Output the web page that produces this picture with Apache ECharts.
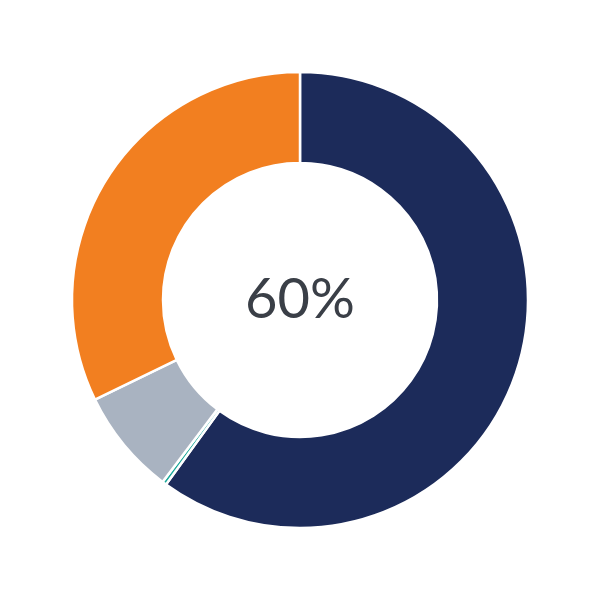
<!DOCTYPE html>
<html><head><meta charset="utf-8">
<script src="https://cdn.jsdelivr.net/npm/echarts@6/dist/echarts.min.js"></script>
<style>html,body{margin:0;padding:0;background:#fff}#c{width:600px;height:600px}</style>
</head><body><div id="c"></div>
<script>
const categories = ['Navy', 'Teal', 'Gray', 'Orange'];
const values = [60, 0.3, 7.5, 32.2];
const colors = ['#1c2b5a', '#1aa89a', '#a9b3c1', '#f27f20'];
const centerLabel = '60%';

const chart = echarts.init(document.getElementById('c'));
chart.setOption({
  animation: false,
  title: {
    text: centerLabel, left: 'center', top: 'middle',
    textStyle: { fontFamily: 'Lato', fontWeight: 'normal', fontSize: 56, color: '#3a3f47' }
  },
  series: [{
    type: 'pie',
    center: [300, 300],
    radius: [137, 228],
    startAngle: 90,
    clockwise: true,
    label: { show: false },
    labelLine: { show: false },
    itemStyle: { borderColor: '#fff', borderWidth: 2.5 },
    data: categories.map((c, i) => ({ name: c, value: values[i], itemStyle: { color: colors[i] } }))
  }]
});
</script></body></html>
